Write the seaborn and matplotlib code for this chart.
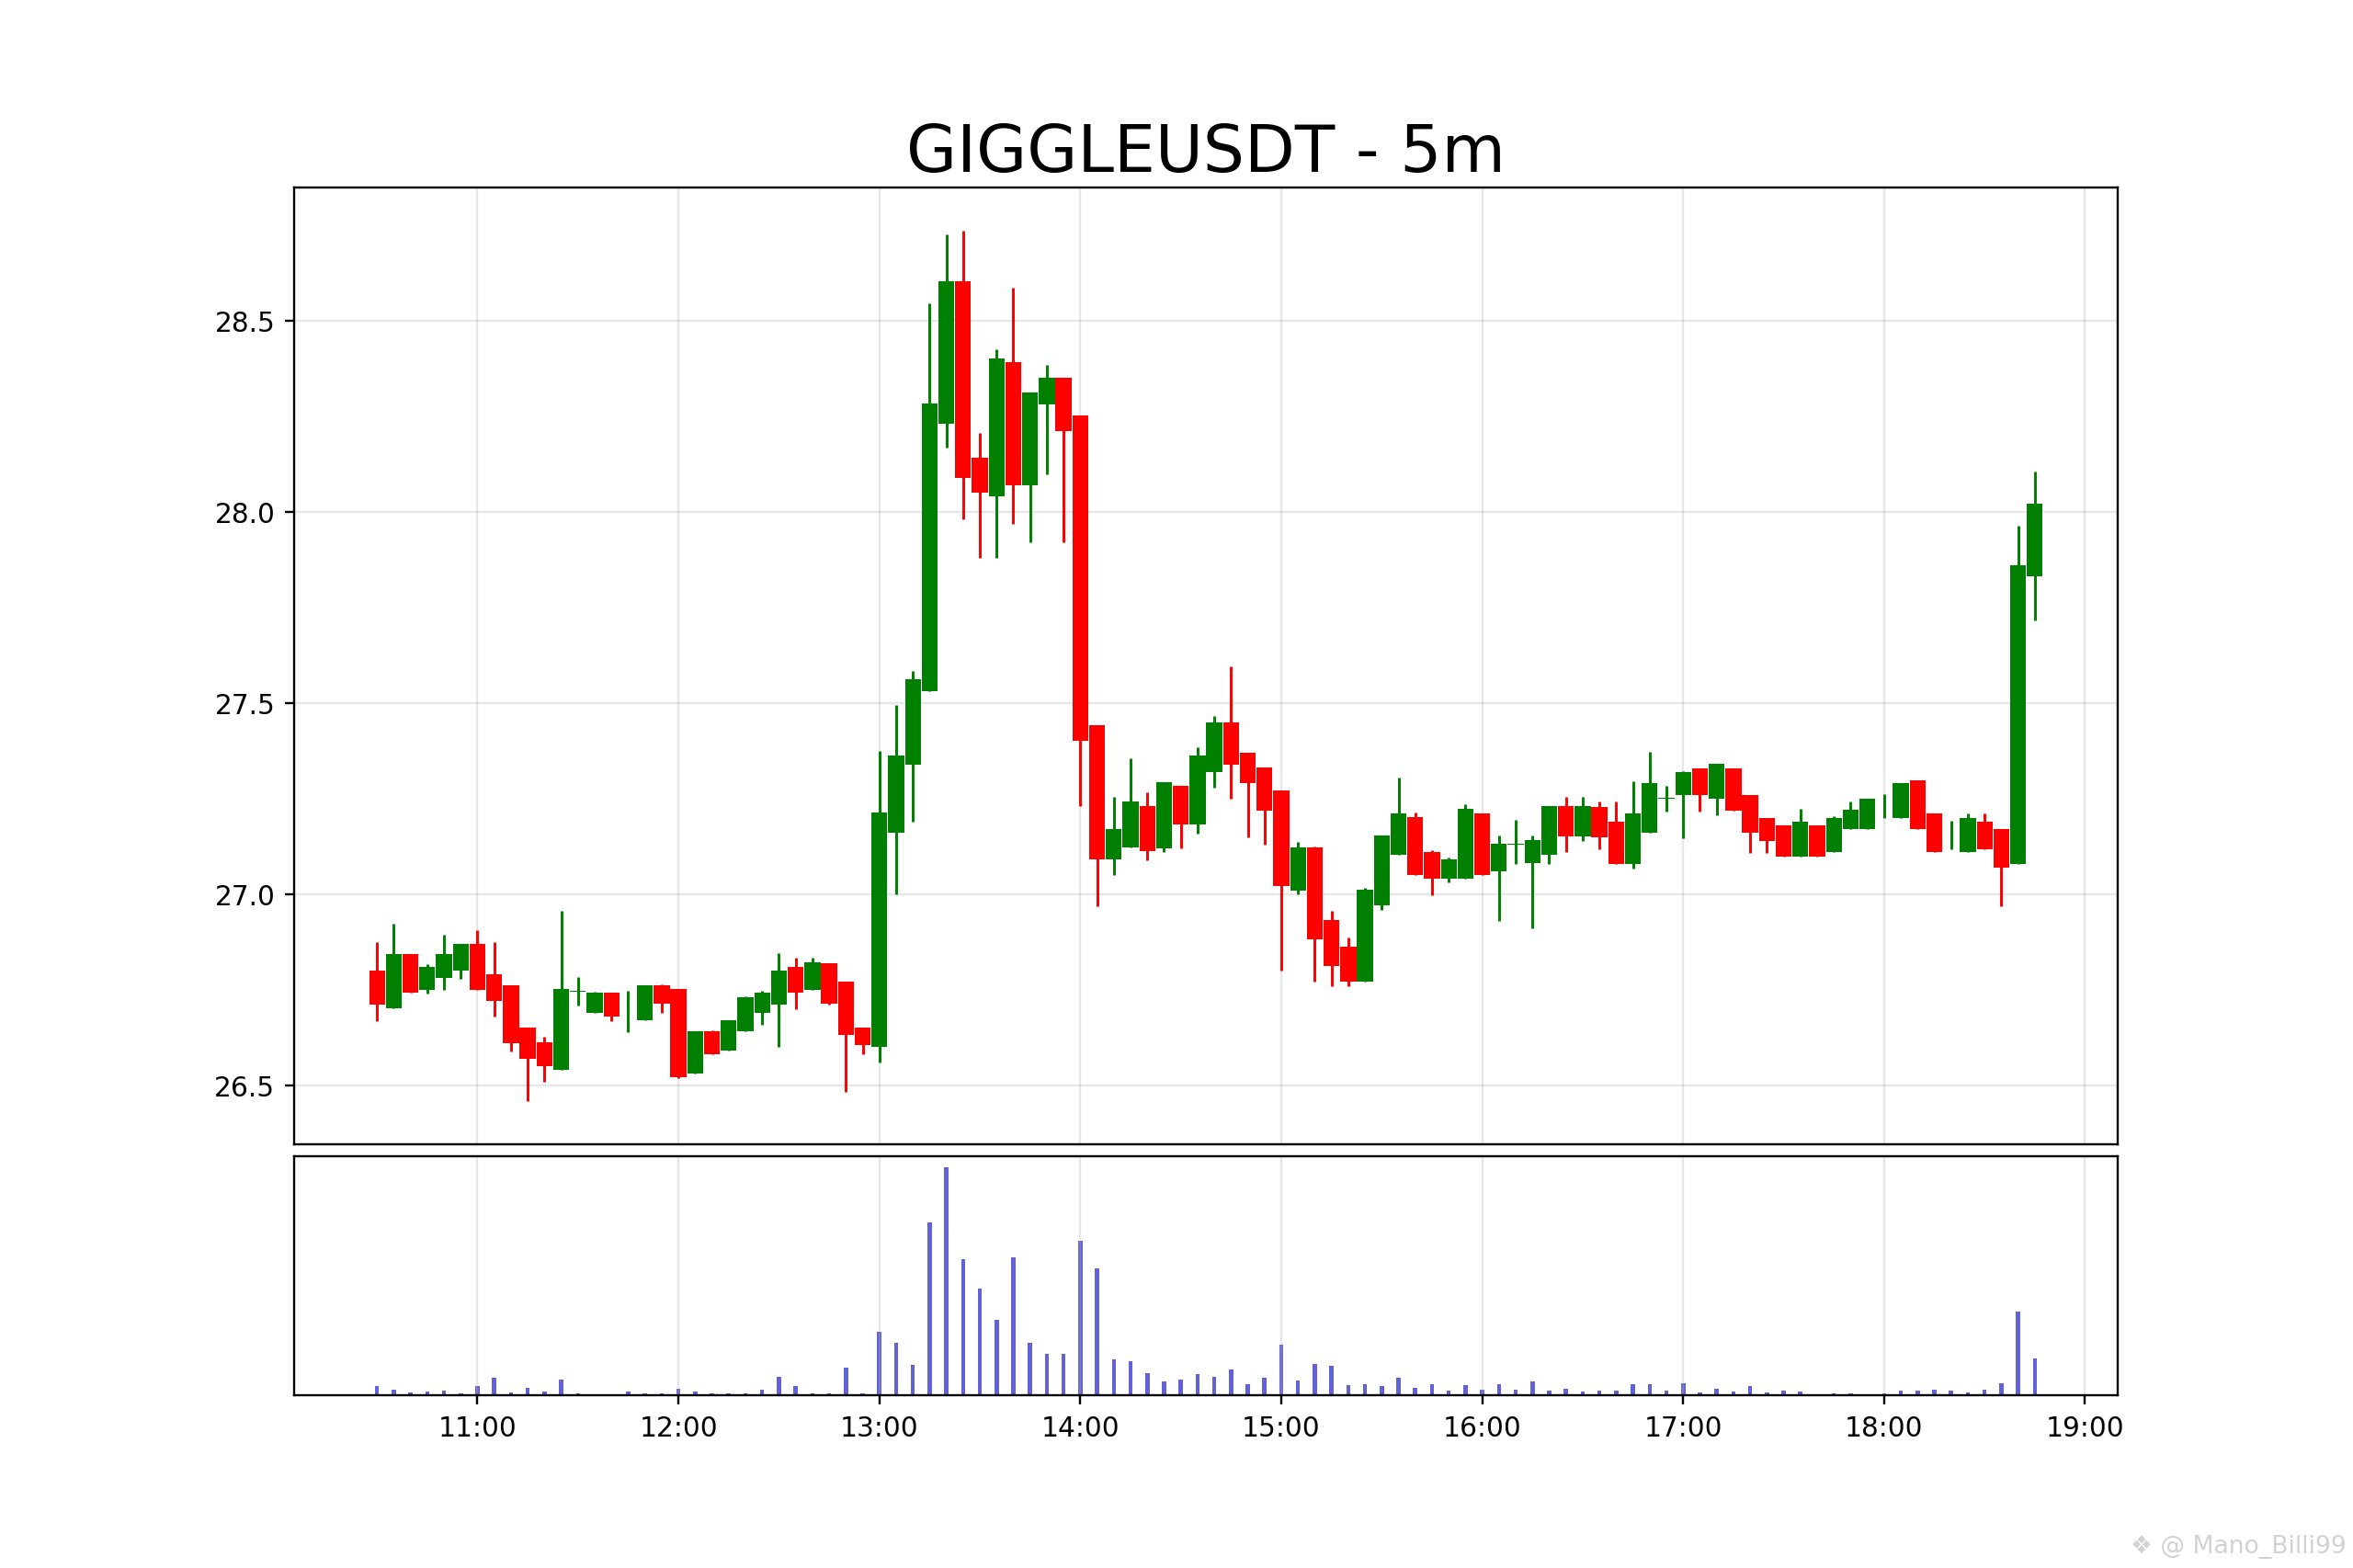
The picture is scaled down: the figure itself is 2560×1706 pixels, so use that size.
import numpy as np
import pandas as pd
import seaborn as sns
import matplotlib
matplotlib.use("Agg")
import matplotlib.pyplot as plt
import matplotlib.dates as mdates

# 5m candles, first one at 10:30
start_time = "2025-01-01 10:30"

opens = [26.80, 26.70, 26.842, 26.75, 26.78, 26.80, 26.87, 26.791, 26.762, 26.65,
         26.611, 26.539, 26.745, 26.689, 26.741, 26.70, 26.67, 26.762, 26.751, 26.53,
         26.642, 26.59, 26.64, 26.689, 26.711, 26.81, 26.75, 26.82, 26.772, 26.651,
         26.60, 27.16, 27.339, 27.53, 28.231, 28.604, 28.142, 28.04, 28.391, 28.07,
         28.28, 28.35, 28.252, 27.442, 27.09, 27.121, 27.231, 27.12, 27.284, 27.181,
         27.32, 27.45, 27.37, 27.331, 27.272, 27.01, 27.123, 26.933, 26.863, 26.77,
         26.97, 27.102, 27.202, 27.111, 27.039, 27.039, 27.212, 27.06, 27.13, 27.082,
         27.102, 27.23, 27.15, 27.228, 27.19, 27.078, 27.16, 27.25, 27.258, 27.328,
         27.25, 27.328, 27.26, 27.20, 27.18, 27.098, 27.18, 27.11, 27.17, 27.17,
         27.23, 27.20, 27.298, 27.21, 27.15, 27.11, 27.19, 27.17, 27.078, 27.83]
highs = [26.875, 26.923, 26.842, 26.816, 26.894, 26.87, 26.906, 26.875, 26.762, 26.65,
         26.626, 26.955, 26.783, 26.744, 26.741, 26.746, 26.762, 26.763, 26.751, 26.642,
         26.644, 26.671, 26.733, 26.746, 26.846, 26.834, 26.834, 26.82, 26.772, 26.651,
         27.375, 27.495, 27.584, 28.544, 28.726, 28.734, 28.206, 28.425, 28.586, 28.312,
         28.384, 28.35, 28.252, 27.442, 27.255, 27.355, 27.266, 27.293, 27.284, 27.384,
         27.466, 27.595, 27.37, 27.331, 27.272, 27.136, 27.124, 26.955, 26.886, 27.015,
         27.152, 27.305, 27.214, 27.115, 27.095, 27.235, 27.212, 27.154, 27.195, 27.152,
         27.23, 27.254, 27.254, 27.242, 27.242, 27.294, 27.372, 27.282, 27.322, 27.328,
         27.34, 27.328, 27.26, 27.20, 27.18, 27.222, 27.18, 27.204, 27.242, 27.25,
         27.262, 27.29, 27.298, 27.21, 27.192, 27.211, 27.211, 27.17, 27.964, 28.106]
lows = [26.668, 26.70, 26.741, 26.739, 26.749, 26.778, 26.75, 26.679, 26.588, 26.459,
        26.508, 26.539, 26.708, 26.689, 26.668, 26.639, 26.67, 26.689, 26.518, 26.53,
        26.58, 26.59, 26.64, 26.658, 26.599, 26.698, 26.75, 26.711, 26.482, 26.58,
        26.56, 27.0, 27.19, 27.53, 28.168, 27.979, 27.878, 27.879, 27.969, 27.919,
        28.098, 27.919, 27.229, 26.969, 27.049, 27.121, 27.088, 27.109, 27.119, 27.159,
        27.278, 27.25, 27.149, 27.129, 26.799, 26.999, 26.77, 26.759, 26.759, 26.77,
        26.959, 27.102, 27.05, 26.998, 27.03, 27.039, 27.05, 26.93, 27.078, 26.91,
        27.078, 27.109, 27.138, 27.118, 27.078, 27.066, 27.16, 27.216, 27.147, 27.216,
        27.206, 27.218, 27.107, 27.107, 27.098, 27.098, 27.098, 27.11, 27.17, 27.17,
        27.20, 27.20, 27.17, 27.11, 27.118, 27.11, 27.118, 26.968, 27.078, 27.716]
closes = [26.71, 26.842, 26.741, 26.81, 26.842, 26.87, 26.75, 26.72, 26.61, 26.57,
          26.55, 26.752, 26.746, 26.741, 26.68, 26.701, 26.762, 26.712, 26.52, 26.642,
          26.58, 26.671, 26.731, 26.741, 26.80, 26.741, 26.821, 26.713, 26.631, 26.606,
          27.213, 27.362, 27.561, 28.283, 28.604, 28.089, 28.05, 28.402, 28.07, 28.312,
          28.35, 28.211, 27.40, 27.09, 27.171, 27.241, 27.112, 27.293, 27.181, 27.362,
          27.45, 27.339, 27.29, 27.219, 27.02, 27.123, 26.882, 26.811, 26.77, 27.011,
          27.152, 27.212, 27.05, 27.039, 27.091, 27.223, 27.05, 27.132, 27.131, 27.142,
          27.23, 27.15, 27.23, 27.148, 27.078, 27.21, 27.29, 27.251, 27.32, 27.258,
          27.34, 27.218, 27.16, 27.138, 27.098, 27.19, 27.098, 27.20, 27.22, 27.25,
          27.231, 27.29, 27.17, 27.11, 27.151, 27.20, 27.118, 27.068, 27.86, 28.02]
volumes = [32, 20, 9, 12, 15, 8, 30, 57, 9, 24,
           12, 51, 8, 2, 1, 12, 6, 8, 23, 12,
           6, 6, 6, 19, 61, 30, 6, 6, 90, 6,
           209, 171, 100, 564, 744, 446, 350, 246, 450, 173,
           135, 135, 504, 414, 117, 113, 73, 46, 53, 69,
           61, 84, 37, 57, 165, 48, 102, 98, 33, 38,
           32, 57, 24, 36, 17, 33, 18, 36, 18, 45,
           17, 23, 12, 17, 15, 38, 36, 15, 39, 9,
           21, 12, 32, 10, 17, 13, 3, 8, 7, 2,
           6, 16, 16, 18, 16, 9, 18, 39, 274, 120]

times = pd.date_range(start_time, periods=len(closes), freq="5min")
df = pd.DataFrame({"t": mdates.date2num(times.to_pydatetime()),
                   "open": opens, "high": highs, "low": lows,
                   "close": closes, "volume": volumes})
df["up"] = df["close"] >= df["open"]
colors = np.where(df["up"], "green", "red")

step = 5 / (24 * 60)

fig = plt.figure(figsize=(12, 8))
gs = fig.add_gridspec(2, 1, height_ratios=[4, 1], hspace=0.02)
ax = fig.add_subplot(gs[0])
axv = fig.add_subplot(gs[1], sharex=ax)

# wicks then bodies
ax.vlines(df["t"], df["low"], df["high"], colors=colors, linewidth=1, zorder=2)
ax.bar(df["t"], (df["close"] - df["open"]).abs().clip(lower=0.0005),
       bottom=df[["open", "close"]].min(axis=1), width=step * 0.95,
       color=colors, linewidth=0, zorder=3)
ax.set_title("GIGGLEUSDT - 5m", fontsize=24)
ax.grid(True, alpha=0.3)
ax.tick_params(axis="x", bottom=False, labelbottom=False)

# volume panel
sns.barplot(data=df, x="t", y="volume", native_scale=True, width=0.25,
            color="#6262d8", saturation=1, errorbar=None, linewidth=0, ax=axv)
axv.set_xlabel("")
axv.set_ylabel("")
axv.grid(True, axis="x", alpha=0.3)
axv.grid(False, axis="y")
axv.tick_params(axis="y", left=False, labelleft=False)
axv.set_ylim(0, max(volumes) * 1.05)

axv.xaxis.set_major_locator(mdates.HourLocator())
axv.xaxis.set_major_formatter(mdates.DateFormatter("%H:%M"))
ax.set_xlim(df["t"].iloc[0] - 0.05 * (df["t"].iloc[-1] - df["t"].iloc[0]),
            df["t"].iloc[-1] + 0.05 * (df["t"].iloc[-1] - df["t"].iloc[0]))

fig.text(0.997, 0.006, "\u2756 @ Mano_Billi99", ha="right", va="bottom",
         fontsize=9, color="#d2d2d2")

fig.savefig("out.png", dpi=2560 / 12)
